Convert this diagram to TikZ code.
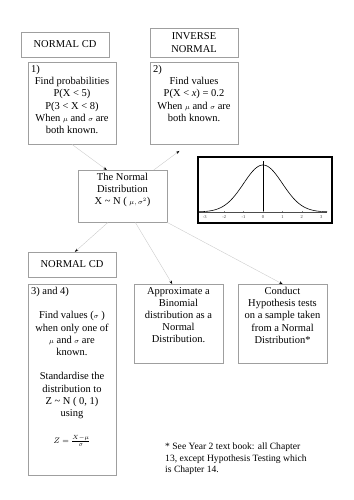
\documentclass[tikz,border=0pt]{standalone}
\usepackage{fontspec}
\setmainfont{Liberation Serif}
\usetikzlibrary{arrows.meta}

\newcommand{\panelbox}[3][82pt]{\parbox[t][#2][t]{#1}{#3}}
\newcommand{\tinysym}[1]{{\scriptsize$#1$}}

\begin{document}
\begin{tikzpicture}[
        x=1pt, y=-1pt,
        >={Stealth[black, length=3.5pt, width=2.6pt]},
        heading/.style={draw=gray!75, rectangle, minimum width=88pt, align=center,
            inner sep=2pt, font=\fontsize{10.5}{12.2}\selectfont},
        panel/.style={draw=gray!75, rectangle, anchor=north, inner sep=3pt,
            font=\fontsize{10.5}{12.2}\selectfont},
        line/.style={draw=gray!40, ->},
        note/.style={anchor=north west, align=left, inner sep=0pt,
            font=\fontsize{9.6}{11.2}\selectfont},
        ticklabel/.style={font=\fontsize{4.5}{5}\selectfont, inner sep=0pt,
            text=black!75},
    ]
    \useasboundingbox (0,0) rectangle (353,500);

    % top row
    \node[heading, minimum height=25pt] (cd1) at (65,44.5) {NORMAL CD};
    \node[heading, minimum height=29pt] (inv) at (194,42.5) {INVERSE\\NORMAL};
    \node[panel] (find1) at (72,62) {\panelbox{76pt}{1)\par\centering
        Find probabilities\\ P(X < 5)\\ P(3 < X < 8)\\
        When \tinysym{\mu} and \tinysym{\sigma} are\\ both known.}};
    \node[panel] (find2) at (194,62) {\panelbox{76pt}{2)\par\centering
        Find values\\ P(X < \textit{x}) = 0.2\\
        When \tinysym{\mu} and \tinysym{\sigma} are\\ both known.}};

    % centre
    \node[panel] (dist) at (122.5,170) {\panelbox[83pt]{46pt}{\centering
        The Normal\\ Distribution\\
        X \textasciitilde{} N ( \tinysym{\mu,\sigma^2})}};

    % bell curve picture
    \draw[line width=1.6pt] (198,157) rectangle (332,223);
    \draw[gray!60!black, line width=0.4pt] (199,212) -- (327,212);
    \draw[line width=0.5pt] (263,212) -- (263,161);
    \draw[line width=0.6pt, smooth] plot[domain=-3.3:3.3, samples=70]
        ({263+19.4*\x},{212-47*exp(-0.5*(\x)*(\x))});
    \foreach \k in {-3,...,3} {
        \draw[gray, line width=0.3pt] ({263+19.4*\k},212) -- ++(0,-1.5);
        \node[ticklabel] at ({263+19.4*\k},217.5) {\k};
    }

    % bottom row
    \node[heading, minimum height=25pt] (cd2) at (72,264.5) {NORMAL CD};
    \node[panel] (find3) at (72,284) {\panelbox{185pt}{3) and 4)\par
        \vspace{12.2pt}\centering
        Find values (\tinysym{\sigma} )\\ when only one of\\
        \tinysym{\mu} and \tinysym{\sigma} are\\ known.\\[12.2pt]
        Standardise the\\ distribution to\\ Z \textasciitilde{} N ( 0, 1)\\ using\\[15pt]
        {\footnotesize $Z=\frac{X-\mu}{\sigma}$}}};
    \node[panel] (approx) at (178.5,284) {\panelbox[83pt]{73pt}{\centering
        Approximate a\\ Binomial\\ distribution as a\\ Normal\\ Distribution.}};
    \node[panel] (conduct) at (282.5,284) {\panelbox[83pt]{73pt}{\centering
        Conduct\\ Hypothesis tests\\ on a sample taken\\ from a Normal\\ Distribution*}};

    \node[note] (foot) at (165,443) {* See Year 2 text book: all Chapter\\
        13, except Hypothesis Testing which\\ is Chapter 14.};

    \foreach \i/\j in {find1.south/dist.121, dist.241/cd2.77,
                       dist.296/approx.99, dist.south east/conduct.north}
        \path[line] (\i) -- (\j);
    \path[line, shorten >=11pt] (dist.40) -- (find2.262);
\end{tikzpicture}
\end{document}
